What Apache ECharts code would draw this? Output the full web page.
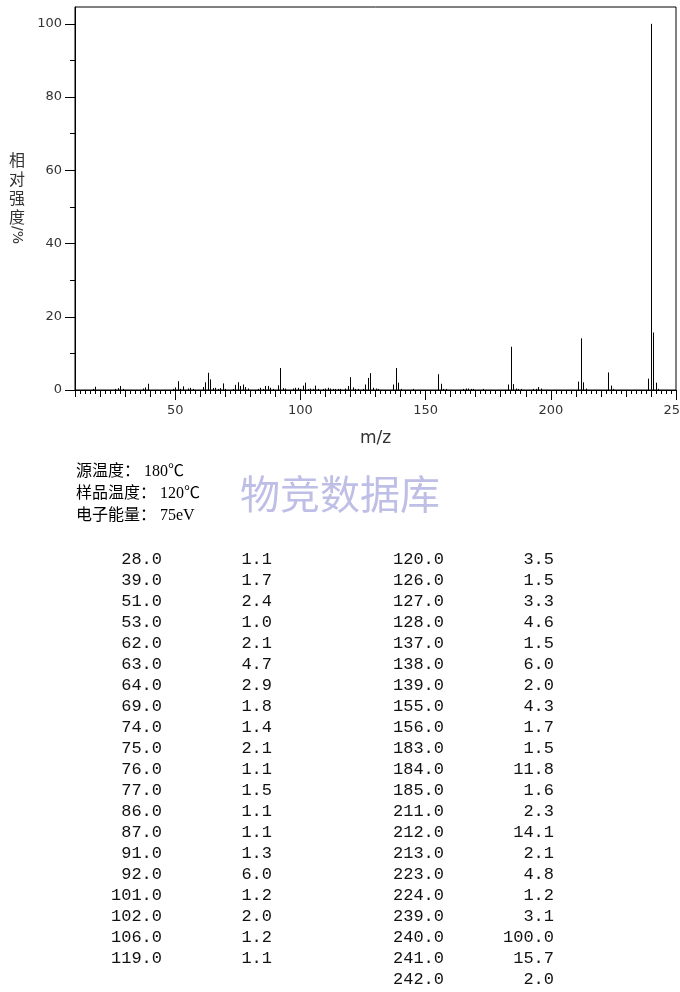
<!DOCTYPE html>
<html>
<head>
<meta charset="utf-8">
<script src="https://cdn.jsdelivr.net/npm/echarts@6/dist/echarts.min.js"></script>
<style>
html,body{margin:0;padding:0;background:#fff;}
#chart{width:680px;height:992px;}
</style>
</head>
<body>
<div id="chart"></div>
<script>
// Peaks listed in the table (m/z, relative intensity %)
const tableMz  = [28,39,51,53,62,63,64,69,74,75,76,77,86,87,91,92,101,102,106,119,
                  120,126,127,128,137,138,139,155,156,183,184,185,211,212,213,223,224,239,240,241,242];
const tableInt = [1.1,1.7,2.4,1.0,2.1,4.7,2.9,1.8,1.4,2.1,1.1,1.5,1.1,1.1,1.3,6.0,1.2,2.0,1.2,1.1,
                  3.5,1.5,3.3,4.6,1.5,6.0,2.0,4.3,1.7,1.5,11.8,1.6,2.3,14.1,2.1,4.8,1.2,3.1,100.0,15.7,2.0];
// Small peaks (below 1 %)
const minorMz  = [17,18,26,27,29,37,38,49,50,52,55,56,57,61,65,66,67,68,70,73,78,79,83,84,85,88,89,93,94,
                  97,98,99,100,103,104,105,107,109,110,111,112,113,114,115,116,118,121,122,123,125,129,130,131,
                  140,145,157,158,165,166,167,168,169,173,186,187,188,193,194,195,196,214,225,243];
const minorInt = [0.3,0.9,0.3,0.5,0.3,0.4,0.7,0.3,0.7,0.3,0.4,0.6,0.3,0.8,0.5,0.6,0.3,0.5,0.3,0.3,0.8,0.4,0.3,0.6,0.3,0.6,0.3,0.5,0.4,
                  0.4,0.6,0.6,0.3,0.3,0.4,0.3,0.3,0.3,0.4,0.6,0.4,0.3,0.3,0.3,0.3,0.4,0.7,0.3,0.3,0.3,0.6,0.4,0.3,
                  0.3,0.3,0.3,0.3,0.3,0.4,0.4,0.3,0.3,0.3,0.4,0.3,0.3,0.3,0.3,0.8,0.4,0.4,0.3,0.3];
const xLabels = [50,100,150,200,250];
const yMinorTicks = [0,10,20,30,40,50,60,70,80,90,100];
const yLabels = [0,20,40,60,80,100];
const infoLines = ['源温度： 180℃','样品温度： 120℃','电子能量： 75eV'];
const watermark = '物竞数据库';

const peaks = [];
tableMz.forEach((m,i)=>peaks.push([m,tableInt[i]]));
minorMz.forEach((m,i)=>peaks.push([m,minorInt[i]]));

const chart = echarts.init(document.getElementById('chart'), null, {renderer:'canvas'});

const axisFont = {fontFamily:'DejaVu Sans', fontSize:13, color:'#333'};
const graphics = [];
// y axis name
graphics.push({type:'text', left:9, top:150, style:{text:'相\n对\n强\n度', font:'16px "Noto Sans CJK SC"', lineHeight:19, fill:'#333'}});
graphics.push({type:'text', x:24, y:226, rotation:-Math.PI/2, style:{text:'/%', font:'14px "DejaVu Sans"', fill:'#333', verticalAlign:'top'}});
// info lines
infoLines.forEach((t,i)=>{
  graphics.push({type:'text', left:76, top:464+i*22, style:{text:t, font:'16px "Liberation Serif","Noto Sans CJK SC"', fill:'#000'}});
});
graphics.push({type:'text', left:240, top:474, style:{text:watermark, font:'40px "Noto Sans CJK SC"', fill:'#bebee6'}});
// table
const colRight = [162,272,444,554];
const half = 20;
for (let i=0;i<tableMz.length;i++){
  const c = i<half ? 0 : 1;
  const r = i<half ? i : i-half;
  const y = 551 + r*21;
  graphics.push({type:'text', x:colRight[c*2], y:y, style:{text:tableMz[i].toFixed(1), font:'17px "Liberation Mono"', fill:'#111', align:'right', verticalAlign:'top'}});
  graphics.push({type:'text', x:colRight[c*2+1], y:y, style:{text:tableInt[i].toFixed(1), font:'17px "Liberation Mono"', fill:'#111', align:'right', verticalAlign:'top'}});
}

chart.setOption({
  animation:false,
  backgroundColor:'#fff',
  grid:{left:75, right:4, top:7, bottom:602, show:true, borderColor:'#000', borderWidth:1,
        containLabel:false, outerBoundsMode:'none'},
  xAxis:[
    {type:'value', min:10, max:250, interval:10, position:'bottom',
     axisLine:{show:true, onZero:false, lineStyle:{color:'#000', width:1}},
     axisTick:{show:true, length:7, lineStyle:{color:'#000'}},
     minorTick:{show:true, splitNumber:5, length:4, lineStyle:{color:'#000'}},
     axisLabel:{show:false}, splitLine:{show:false}},
    {type:'value', min:10, max:250, position:'bottom',
     axisLine:{show:false, onZero:false},
     axisTick:{show:true, length:10, customValues:xLabels, lineStyle:{color:'#000'}},
     axisLabel:Object.assign({show:true, margin:14, customValues:xLabels}, axisFont),
     splitLine:{show:false},
     name:'m/z', nameLocation:'middle', nameGap:40,
     nameTextStyle:{fontFamily:'DejaVu Sans', fontSize:17, color:'#333'}}
  ],
  yAxis:[
    {type:'value', min:0, max:104.6, position:'left',
     axisLine:{show:true, onZero:false, lineStyle:{color:'#000'}},
     axisTick:{show:true, length:5, customValues:yMinorTicks, lineStyle:{color:'#000'}},
     axisLabel:{show:false}, splitLine:{show:false}},
    {type:'value', min:0, max:104.6, position:'left',
     axisLine:{show:false, onZero:false},
     axisTick:{show:true, length:10, customValues:yLabels, lineStyle:{color:'#000'}},
     axisLabel:Object.assign({show:true, margin:13, customValues:yLabels}, axisFont),
     splitLine:{show:false}}
  ],
  series:[{
    type:'custom', xAxisIndex:0, yAxisIndex:0, data:peaks, clip:true,
    renderItem:function(params, api){
      const p0 = api.coord([api.value(0), 0]);
      const p1 = api.coord([api.value(0), api.value(1)]);
      const x = Math.round(p0[0]) + 0.5;
      return {type:'line', shape:{x1:x, y1:p0[1], x2:x, y2:p1[1]}, style:{stroke:'#000', lineWidth:1}};
    }
  }],
  graphic:graphics
});
</script>
</body>
</html>
